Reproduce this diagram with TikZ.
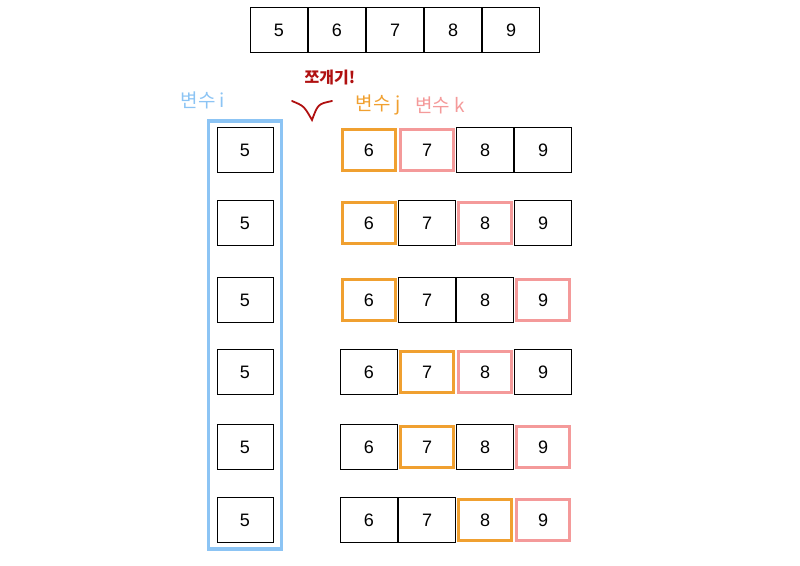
\documentclass[tikz,border=0pt]{standalone}
\usepackage{fontspec}
\setmainfont{Liberation Sans}
\newfontfamily\kr{Noto Sans CJK KR}
\definecolor{cj}{HTML}{F0A030}
\definecolor{ck}{HTML}{F49A9A}
\definecolor{ci}{HTML}{8CC4F4}
\definecolor{cr}{HTML}{B01010}
\begin{document}
\begin{tikzpicture}[x=1pt,y=-1pt,
  cell/.style={draw=black,line width=0.8pt,minimum width=57pt,minimum height=45pt,inner sep=0pt,font=\fontsize{18}{18}\selectfont},
  jcell/.style={cell,draw=cj,line width=3.5pt,minimum width=53pt,minimum height=41pt},
  kcell/.style={cell,draw=ck,line width=3.5pt,minimum width=53pt,minimum height=41pt},
  icell/.style={cell,minimum width=56pt,minimum height=45pt}]
\useasboundingbox (0,0) rectangle (800,565);
\foreach \d [count=\c from 0] in {5,6,7,8,9}
  \node[cell] (t\c) at (279+\c*58,30) {\d};
\node[draw=ci,line width=3.5pt,minimum width=73pt,minimum height=428pt,inner sep=0pt] (bi) at (245,335) {};
\foreach \y/\jj/\kk [count=\r] in {150/0/1,223/0/2,300/0/3,372/1/2,447/1/3,520/2/3}{
  \node[icell] (i\r) at (245,\y) {5};
  \foreach \d [count=\c from 0] in {6,7,8,9}{
    \ifnum\c=\jj \node[jcell] (r\r c\c) at (369+\c*58,\y) {\d};
    \else\ifnum\c=\kk \node[kcell] (r\r c\c) at (369+\c*58,\y) {\d};
    \else \node[cell] (r\r c\c) at (369+\c*58,\y) {\d};\fi\fi}
}
\node[text=ci,font=\kr\fontsize{19}{19}\selectfont] (li) at (203,100) {변수 i};
\node[text=cr,font=\kr\bfseries\fontsize{16}{16}\selectfont] (ls) at (330,77) {쪼개기!};
\node[text=cj,font=\kr\fontsize{19}{19}\selectfont] (lj) at (378,105) {변수 j};
\node[text=ck,font=\kr\fontsize{19}{19}\selectfont] (lk) at (440,105) {변수 k};
\coordinate (v1) at (292,101); \coordinate (v2) at (312,120); \coordinate (v3) at (332,101);
\draw[cr,line width=1.8pt,line cap=round] (v1) .. controls (304,106) .. (v2) .. controls (318,104) .. (v3);
\end{tikzpicture}
\end{document}
